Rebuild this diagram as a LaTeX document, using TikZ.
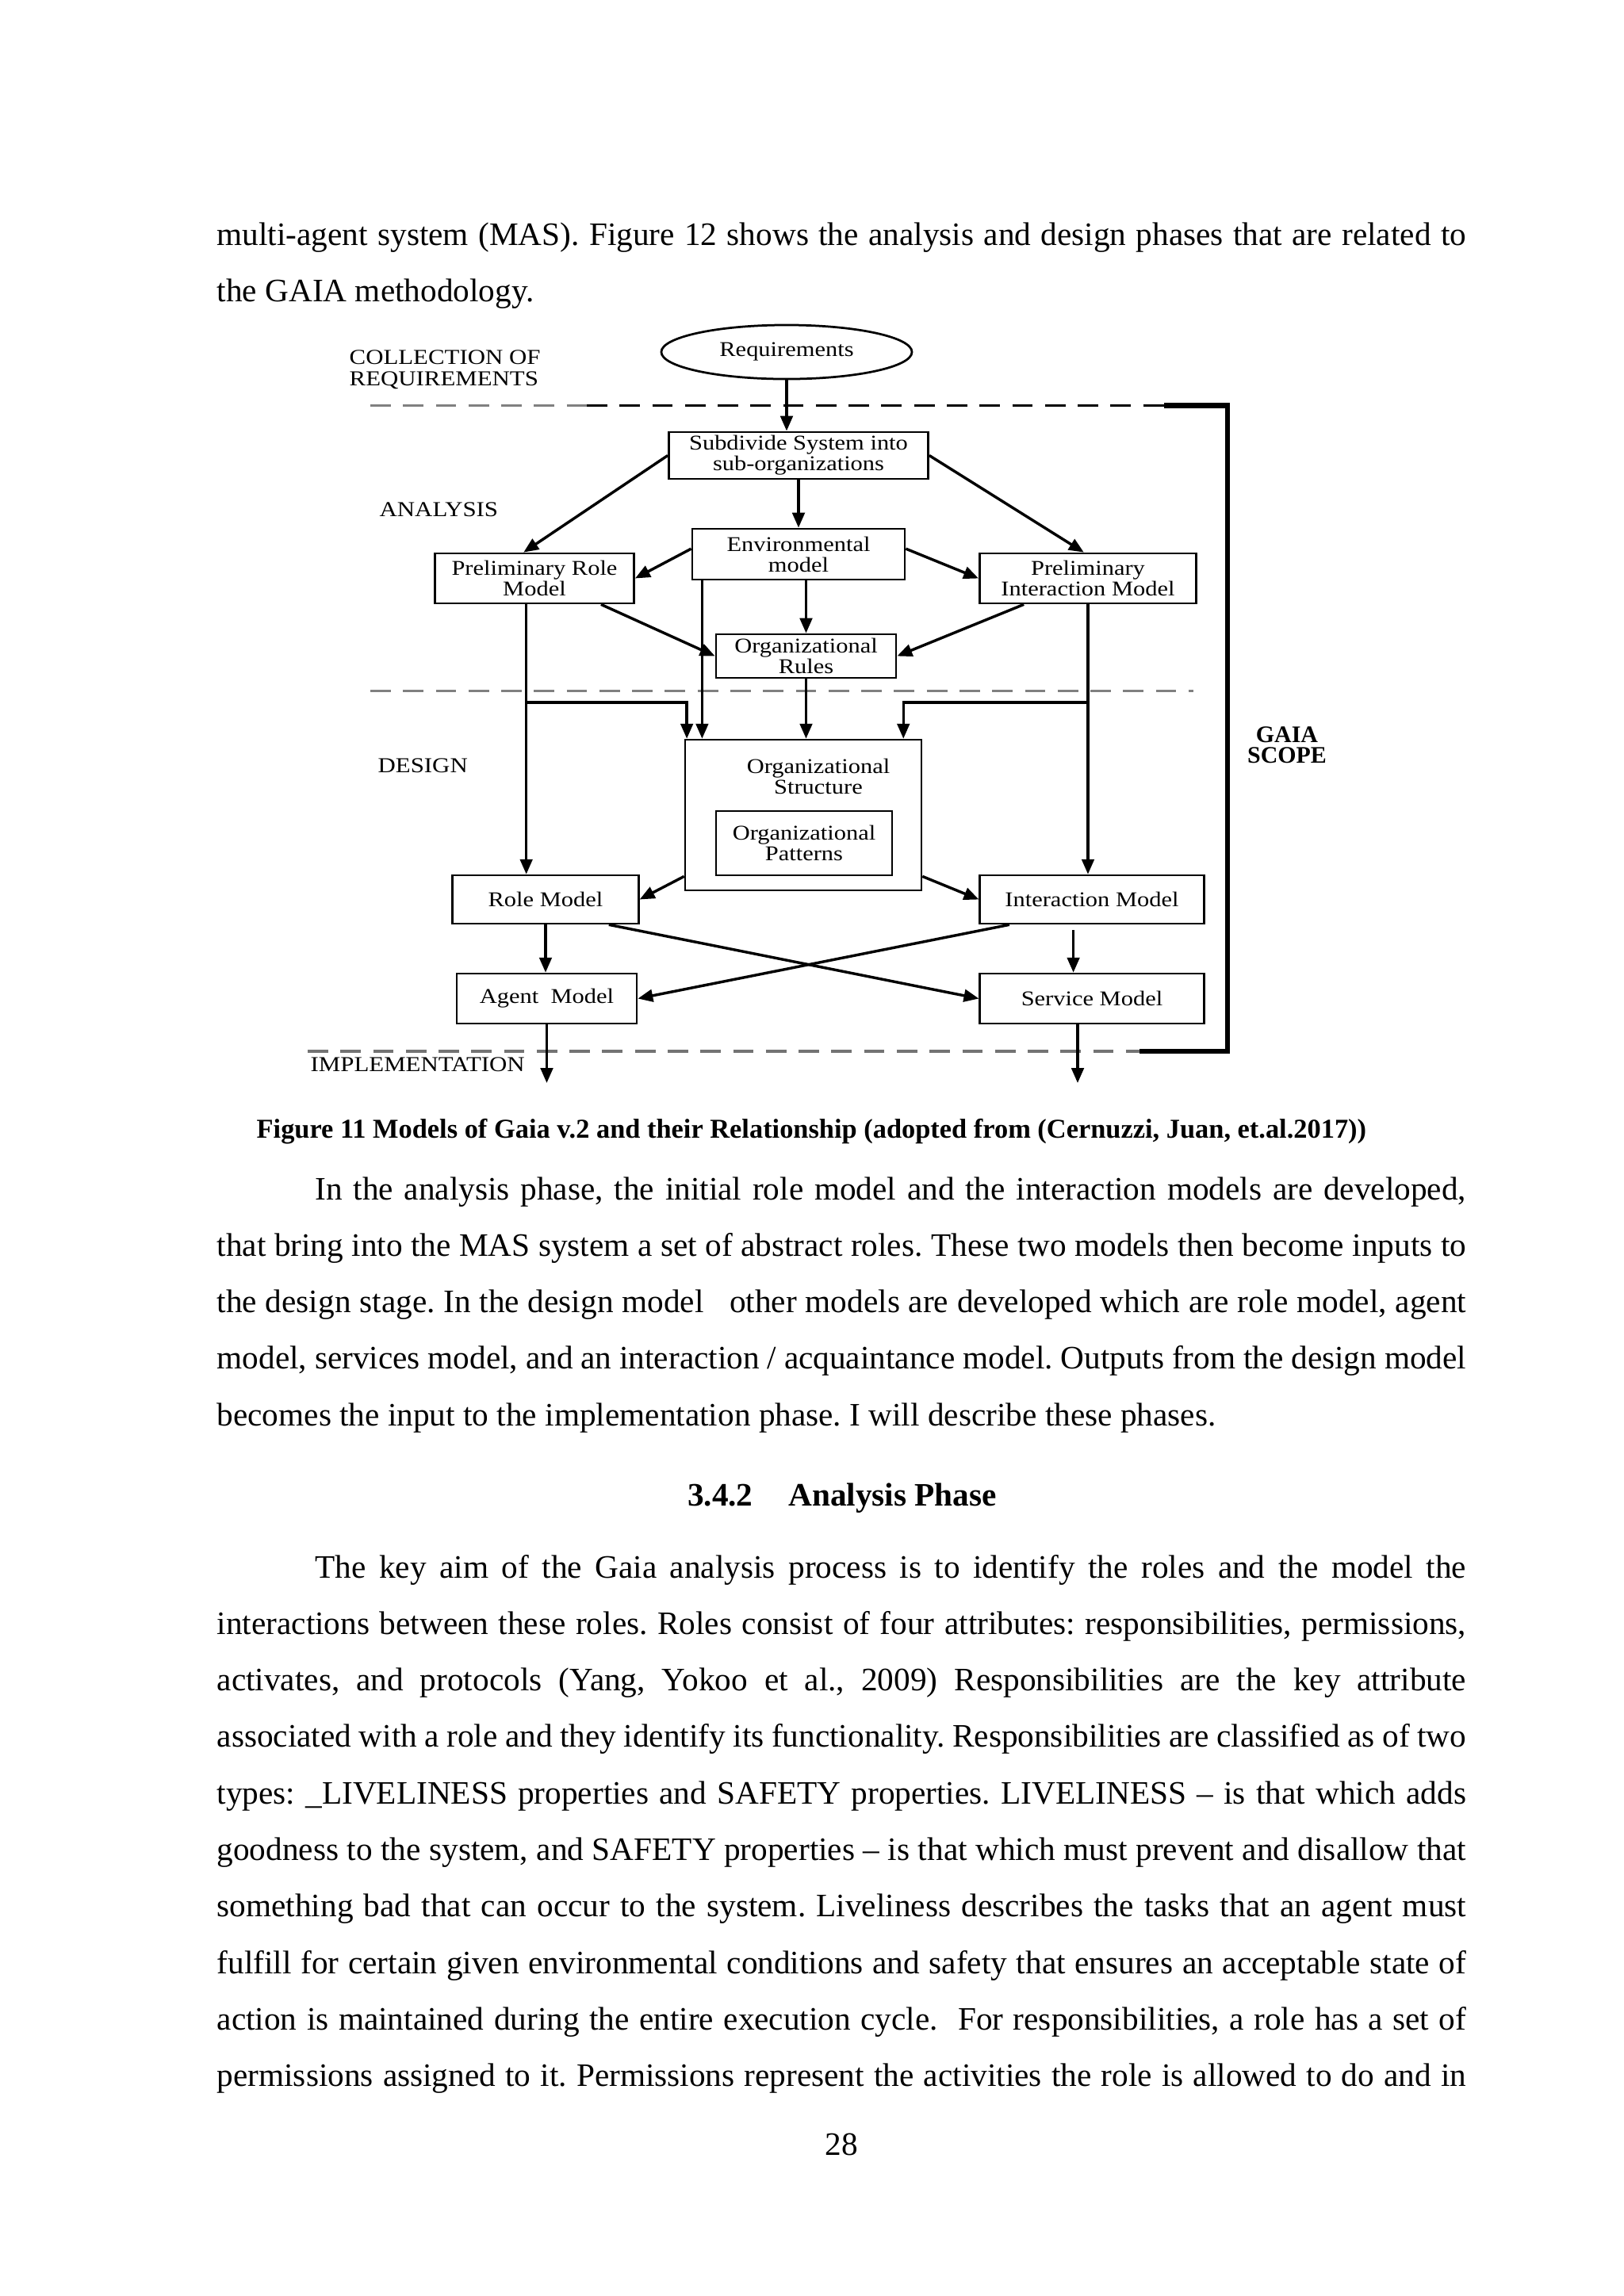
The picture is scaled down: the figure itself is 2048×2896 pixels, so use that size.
\documentclass[tikz,border=0pt]{standalone}
\usepackage{fontspec}
\setmainfont{Liberation Serif}
\newfontfamily\diagfont[FakeStretch=1.15]{Liberation Serif}
\usepackage{tikz}
\usetikzlibrary{arrows.meta,shapes.geometric}
\newcommand\tightlines{\lineskiplimit=-5pt\relax}
\newcommand\loosejust{\tolerance=10000\relax\hyphenpenalty=10000\relax\frenchspacing}

\begin{document}
\begin{tikzpicture}[x=0.29073pt,y=-0.29073pt]%
  \tikzstyle{bodypar}=[anchor=base west,inner sep=0,text width=458pt,align=justify,
    font={\fontsize{12}{20.73}\selectfont\loosejust}]
  \tikzstyle{model}=[rectangle,draw,line width=0.8pt,inner sep=1pt,align=center,
    font={\diagfont\fontsize{7.7}{7.6}\selectfont\tightlines}]
  \tikzstyle{phase}=[anchor=west,align=left,inner sep=0,
    font={\diagfont\fontsize{7.8}{7.8}\selectfont\tightlines}]
  \tikzstyle{arr}=[line width=1pt,-{Triangle[length=5.5pt,width=4.5pt]}]
  \tikzstyle{cut}=[line width=0.9pt,dash pattern=on 7.5pt off 4.5pt]
  \useasboundingbox (0,0) rectangle (2048,2896);

  % running text above the figure
  \node[bodypar] (p0) at (273,309) {multi-agent system (MAS). Figure 12 shows the analysis and design phases that are related to\linebreak
    the GAIA methodology.};

  % phases
  \node[phase] (lcoll) at (440,466) {COLLECTION OF\\REQUIREMENTS};
  \node[phase] (lana) at (478,643) {ANALYSIS};
  \node[phase] (ldes) at (476,966) {DESIGN};
  \node[phase] (limp) at (391,1343) {IMPLEMENTATION};
  \node[align=center,inner sep=0,font={\bfseries\fontsize{8.7}{7.5}\selectfont\tightlines}] (lgaia) at (1623,940) {GAIA\\SCOPE};

  \draw[cut,black!50] (467,511.5) -- (740,511.5);
  \draw[cut] (740,511.5) -- (1468,511.5);
  \draw[cut,black!50] (467,871.6) -- (1505,871.6);
  \draw[cut,black!55] (388,1326) -- (1437,1326);
  \draw[line width=2pt] (1468,511.5) -| (1548,1326) -- (1437,1326);

  % models
  \node[model,ellipse,minimum width=91.9pt,minimum height=19.8pt] (req) at (992,444) {Requirements};
  \node[model,minimum width=95.1pt,minimum height=17.2pt] (sub) at (1007,574.5) {Subdivide System into\\sub-organizations};
  \node[model,minimum width=77.9pt,minimum height=18.6pt] (env) at (1007,699) {Environmental\\model};
  \node[model,minimum width=73pt,minimum height=18.3pt] (prm) at (674,729.5) {Preliminary Role\\Model};
  \node[model,minimum width=79.4pt,minimum height=18.3pt] (pim) at (1372,729.5) {Preliminary\\Interaction Model};
  \node[model,minimum width=66pt,minimum height=16pt] (orl) at (1016.5,827.5) {Organizational\\Rules};
  \node[model,minimum width=86.6pt,minimum height=55.2pt] (os) at (1013,1028) {};
  \node[model,draw=none] (ost) at (1032,979) {Organizational\\Structure};
  \node[model,minimum width=64.5pt,minimum height=23.5pt] (op) at (1014,1063.5) {Organizational\\Patterns};
  \node[model,minimum width=68.2pt,minimum height=17.7pt] (rm) at (688,1134.5) {Role Model};
  \node[model,minimum width=82.1pt,minimum height=17.7pt] (im) at (1377,1134.5) {Interaction Model};
  \node[model,minimum width=66pt,minimum height=18.3pt] (am) at (689.5,1259.5) {Agent\ \ Model};
  \node[model,minimum width=82.1pt,minimum height=18.3pt] (sm) at (1377,1259.5) {Service Model};

  \draw[arr] (req.south) -- (req.south |- sub.north);
  \draw[arr] (sub.west) -- ([xshift=-4pt]prm.north);
  \draw[arr] (sub.east) -- ([xshift=-1.5pt]pim.north);
  \draw[arr] (sub.south) -- (env.north);
  \draw[arr] ([yshift=2pt]env.west) -- (prm.east);
  \draw[arr] ([yshift=2pt]env.east) -- (pim.west);
  \draw[arr] (env.south -| orl.north) -- (orl.north);
  \draw[arr] ([xshift=-12.5pt]prm.south east) -- (orl.west);
  \draw[arr] ([xshift=16.6pt]pim.south west) -- (orl.east);

  \coordinate (pl) at ([xshift=-3pt]prm.south);
  \coordinate (el) at ([xshift=4pt]env.south west);
  \coordinate (br) at (0,886);
  \draw[arr] (pl) -- (pl |- rm.north);
  \draw[arr] (pl |- br) -| ([xshift=1pt]os.north west);
  \draw[arr] (el) -- (el |- os.north);
  \draw[arr] (orl.south) -- (orl.south |- os.north);
  \draw[arr] (pim.south) -- (pim.south |- im.north);
  \draw[arr] (pim.south |- br) -| ([xshift=-7pt]os.north east);
  \draw[arr] ([yshift=5.5pt]os.south west) -- (rm.east);
  \draw[arr] ([yshift=5.5pt]os.south east) -- (im.west);

  \coordinate (ims) at ([xshift=-6.8pt,yshift=-2pt]im.south);
  \draw[arr] (rm.south) -- (rm.south |- am.north);
  \draw[arr] (ims) -- (ims |- sm.north);
  \draw[arr] ([xshift=-11.3pt]rm.south east) -- (sm.west);
  \draw[arr] ([xshift=11.2pt]im.south west) -- (am.east);

  \coordinate (outa) at (689,1366);
  \coordinate (outs) at (1359,1366);
  \draw[arr] (am.south) -- (am.south |- outa);
  \draw[arr] (sm.south -| outs) -- (outs);

  % caption and text below
  \node[anchor=base west,inner sep=0,font={\bfseries\fontsize{10}{12}\selectfont}] (cap) at (323,1435)
    {Figure 11 Models of Gaia v.2 and their Relationship (adopted from (Cernuzzi, Juan, et.al.2017))};

  \node[bodypar] (p1) at (273,1513) {\hspace*{36pt}In the analysis phase, the initial role model and the interaction models are developed,\linebreak
    that bring into the MAS system a set of abstract roles. These two models then become inputs to\linebreak
    the design stage. In the design model~~~other models are developed which are role model, agent\linebreak
    model, services model, and an interaction / acquaintance model. Outputs from the design model\linebreak
    becomes the input to the implementation phase. I will describe these phases.};

  \node[anchor=base,inner sep=0,font={\bfseries\fontsize{12}{14}\selectfont}] (sec) at (1062,1899) {3.4.2\hspace{13pt}Analysis Phase};

  \node[bodypar] (p2) at (273,1990) {\hspace*{36pt}The key aim of the Gaia analysis process is to identify the roles and the model the\linebreak
    interactions between these roles. Roles consist of four attributes: responsibilities, permissions,\linebreak
    activates, and protocols (Yang, Yokoo et al., 2009) Responsibilities are the key attribute\linebreak
    associated with a role and they identify its functionality. Responsibilities are classified as of two\linebreak
    types: \_LIVELINESS properties and SAFETY properties. LIVELINESS – is that which adds\linebreak
    goodness to the system, and SAFETY properties – is that which must prevent and disallow that\linebreak
    something bad that can occur to the system. Liveliness describes the tasks that an agent must\linebreak
    fulfill for certain given environmental conditions and safety that ensures an acceptable state of\linebreak
    action is maintained during the entire execution cycle.~ For responsibilities, a role has a set of\linebreak
    permissions assigned to it. Permissions represent the activities the role is allowed to do and in{\parfillskip=0pt\par}};

  \node[anchor=base,inner sep=0,font={\fontsize{12}{14}\selectfont}] (pg) at (1061,2718) {28};
\end{tikzpicture}
\end{document}
